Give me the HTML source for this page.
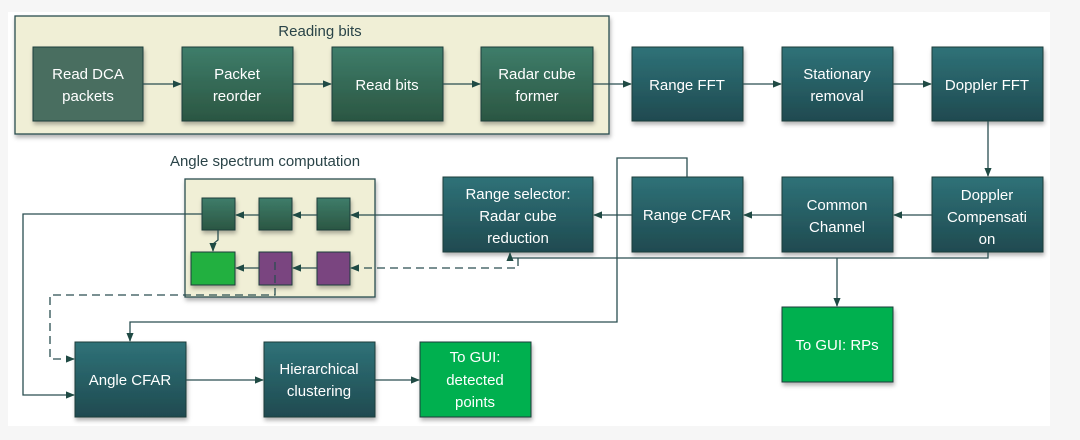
<!DOCTYPE html>
<html><head><meta charset="utf-8"><style>
body{margin:0;background:#f6f6f6;}
svg{display:block;font-family:"Liberation Sans","DejaVu Sans",sans-serif;}
</style></head><body>
<svg width="1080" height="440" viewBox="0 0 1080 440" xmlns="http://www.w3.org/2000/svg">
<defs>
<linearGradient id="teal" x1="0" y1="0" x2="0" y2="1"><stop offset="0" stop-color="#2f7278"/><stop offset="1" stop-color="#1f4a50"/></linearGradient>
<linearGradient id="grn" x1="0" y1="0" x2="0" y2="1"><stop offset="0" stop-color="#3e7d6a"/><stop offset="1" stop-color="#2b5642"/></linearGradient>
<marker id="a" viewBox="0 0 10 10" refX="9" refY="5" markerWidth="7" markerHeight="7" orient="auto"><path d="M0,1 L10,5 L0,9 z" fill="#1f4a44"/></marker>
<filter id="sh" x="-10%" y="-10%" width="130%" height="130%"><feDropShadow dx="1" dy="3" stdDeviation="2" flood-color="#000" flood-opacity="0.3"/></filter>
</defs>
<rect x="8" y="12" width="1042" height="414" fill="#ffffff"/>
<g stroke="#2a4e50" stroke-width="1.3" fill="none">
<!-- containers -->
<rect x="15" y="16" width="594" height="118" fill="#f0efd6" filter="url(#sh)"/>
<rect x="185" y="179" width="190" height="118" fill="#f0efd6" filter="url(#sh)"/>
</g>
<text x="320" y="36" text-anchor="middle" font-size="15" fill="#2a4448">Reading bits</text>
<text x="265" y="166" text-anchor="middle" font-size="15" fill="#2a4448">Angle spectrum computation</text>
<g stroke="#1e3e3a" stroke-width="1" filter="url(#sh)">
<rect x="33" y="47" width="110" height="74" fill="#4a6e60"/>
<rect x="182" y="47" width="111" height="74" fill="url(#grn)"/>
<rect x="332" y="47" width="111" height="74" fill="url(#grn)"/>
<rect x="481" y="47" width="112" height="74" fill="url(#grn)"/>
<rect x="632" y="47" width="111" height="74" fill="url(#teal)"/>
<rect x="782" y="47" width="111" height="74" fill="url(#teal)"/>
<rect x="932" y="47" width="111" height="74" fill="url(#teal)"/>
<rect x="932" y="177" width="111" height="75" fill="url(#teal)"/>
<rect x="782" y="177" width="111" height="75" fill="url(#teal)"/>
<rect x="632" y="177" width="111" height="75" fill="url(#teal)"/>
<rect x="443" y="177" width="150" height="75" fill="url(#teal)"/>
<rect x="75" y="342" width="111" height="75" fill="url(#teal)"/>
<rect x="264" y="342" width="111" height="75" fill="url(#teal)"/>
<rect x="420" y="342" width="111" height="75" fill="#00b050"/>
<rect x="782" y="307" width="111" height="75" fill="#00b050"/>
<rect x="202" y="198" width="33" height="32" fill="url(#grn)"/>
<rect x="259" y="198" width="33" height="32" fill="url(#grn)"/>
<rect x="317" y="198" width="33" height="32" fill="url(#grn)"/>
<rect x="191" y="252" width="44" height="33" fill="#22b040"/>
<rect x="259" y="252" width="33" height="33" fill="#7a4580"/>
<rect x="317" y="252" width="33" height="33" fill="#7a4580"/>
</g>
<g fill="#ffffff" font-size="15" text-anchor="middle">
<text x="88" y="79">Read DCA</text><text x="88" y="101">packets</text>
<text x="237" y="79">Packet</text><text x="237" y="101">reorder</text>
<text x="387" y="90">Read bits</text>
<text x="537" y="79">Radar cube</text><text x="537" y="101">former</text>
<text x="687" y="90">Range FFT</text>
<text x="837" y="79">Stationary</text><text x="837" y="101">removal</text>
<text x="987" y="90">Doppler FFT</text>
<text x="987" y="200">Doppler</text><text x="987" y="222">Compensati</text><text x="987" y="244">on</text>
<text x="837" y="210">Common</text><text x="837" y="232">Channel</text>
<text x="687" y="220">Range CFAR</text>
<text x="518" y="199">Range selector:</text><text x="518" y="221">Radar cube</text><text x="518" y="243">reduction</text>
<text x="130" y="385">Angle CFAR</text>
<text x="319" y="374">Hierarchical</text><text x="319" y="396">clustering</text>
<text x="475" y="362">To GUI:</text><text x="475" y="385">detected</text><text x="475" y="407">points</text>
<text x="837" y="350">To GUI: RPs</text>
</g>
<g stroke="#2a4e50" stroke-width="1.3" fill="none" marker-end="url(#a)">
<line x1="143" y1="84" x2="181" y2="84"/>
<line x1="293" y1="84" x2="331" y2="84"/>
<line x1="443" y1="84" x2="480" y2="84"/>
<line x1="593" y1="84" x2="631" y2="84"/>
<line x1="743" y1="84" x2="781" y2="84"/>
<line x1="893" y1="84" x2="931" y2="84"/>
<line x1="988" y1="121" x2="988" y2="176"/>
<line x1="932" y1="215" x2="894" y2="215"/>
<line x1="782" y1="215" x2="744" y2="215"/>
<line x1="632" y1="215" x2="594" y2="215"/>
<line x1="443" y1="215" x2="351" y2="215"/>
<line x1="317" y1="215" x2="293" y2="215"/>
<line x1="259" y1="215" x2="236" y2="215"/>
<path d="M218,230 L218,240 L213,244 L213,251"/>
<path d="M988,252 L988,258 L525,258 L510,258 L510,253"/>
<line x1="837" y1="258" x2="837" y2="306"/>
<path d="M687,177 L687,158 L617,158 L617,322 L130,322 L130,341"/>
<path d="M202,214 L23,214 L23,395 L74,395"/>
<line x1="186" y1="380" x2="263" y2="380"/>
<line x1="375" y1="380" x2="419" y2="380"/>
<path d="M518,258 L518,268 L351,268" stroke-dasharray="8,5"/>
<line x1="317" y1="268" x2="293" y2="268"/>
<line x1="259" y1="268" x2="236" y2="268"/>
<path d="M275,262 L275,295 L50,295 L50,359 L74,359" stroke-dasharray="8,5"/>
</g>
</svg>
</body></html>
